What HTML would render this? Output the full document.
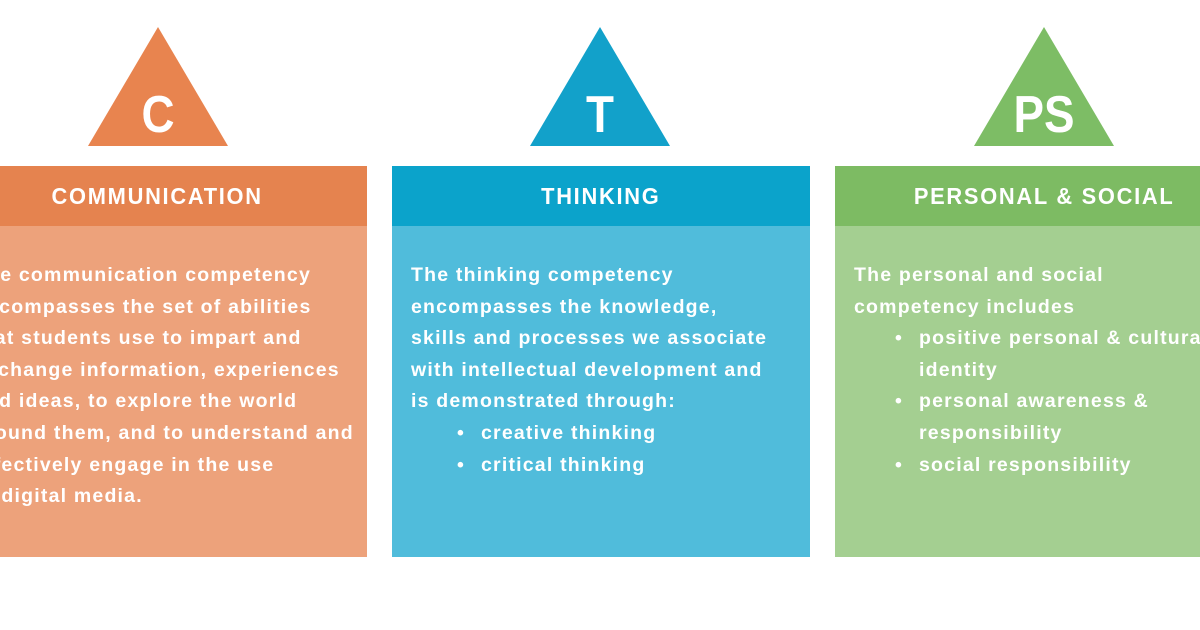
<!DOCTYPE html>
<html><head><style>
*{margin:0;padding:0;box-sizing:border-box}
body{width:1200px;height:630px;background:#fff;position:relative;overflow:hidden;font-family:"Liberation Sans",sans-serif;color:#fff;font-weight:bold}
.tri{position:absolute;top:27px;width:0;height:0;border-left:70px solid transparent;border-right:70px solid transparent;border-bottom:119px solid}
.tl{position:absolute;top:85px;width:140px;text-align:center;font-size:52px;line-height:60px;transform:scaleX(0.88)}
.hd{position:absolute;top:166px;height:60px;line-height:60px;text-align:center;font-size:23px;letter-spacing:1.8px}
.hd span{display:inline-block;transform:scaleX(0.95)}
.bd{position:absolute;top:226px;height:331px;font-size:19.5px;letter-spacing:1.2px;line-height:31.6px;padding-top:34px;white-space:nowrap}
.b{position:relative}
.b:before{content:"•";position:absolute;left:-24px}
</style></head><body>
<div class="tri" style="left:88px;border-bottom-color:#e8844f"></div>
<div class="tl" style="left:88px">C</div>
<div class="tri" style="left:530px;border-bottom-color:#12a1ca"></div>
<div class="tl" style="left:530px">T</div>
<div class="tri" style="left:974px;border-bottom-color:#7dbd65"></div>
<div class="tl" style="left:974px">PS</div>

<div class="hd" style="left:-52px;width:419px;background:#e5834f"><span>COMMUNICATION</span></div>
<div class="bd" style="left:-52px;width:419px;background:#eda27b;padding-left:26px">The communication competency<br>encompasses the set of abilities<br>that students use to impart and<br>exchange information, experiences<br>and ideas, to explore the world<br>around them, and to understand and<br>effectively engage in the use<br>of digital media.</div>

<div class="hd" style="left:392px;width:418px;background:#0ba3cb"><span>THINKING</span></div>
<div class="bd" style="left:392px;width:418px;background:#50bcdb;padding-left:19px">The thinking competency<br>encompasses the knowledge,<br>skills and processes we associate<br>with intellectual development and<br>is demonstrated through:<div style="padding-left:70px"><div class="b">creative thinking</div><div class="b">critical thinking</div></div></div>

<div class="hd" style="left:835px;width:419px;background:#7dbb63"><span>PERSONAL &amp; SOCIAL</span></div>
<div class="bd" style="left:835px;width:419px;background:#a4cf91;padding-left:19px">The personal and social<br>competency includes<div style="padding-left:65px"><div class="b">positive personal &amp; cultural<br>identity</div><div class="b">personal awareness &amp;<br>responsibility</div><div class="b">social responsibility</div></div></div>
</body></html>
